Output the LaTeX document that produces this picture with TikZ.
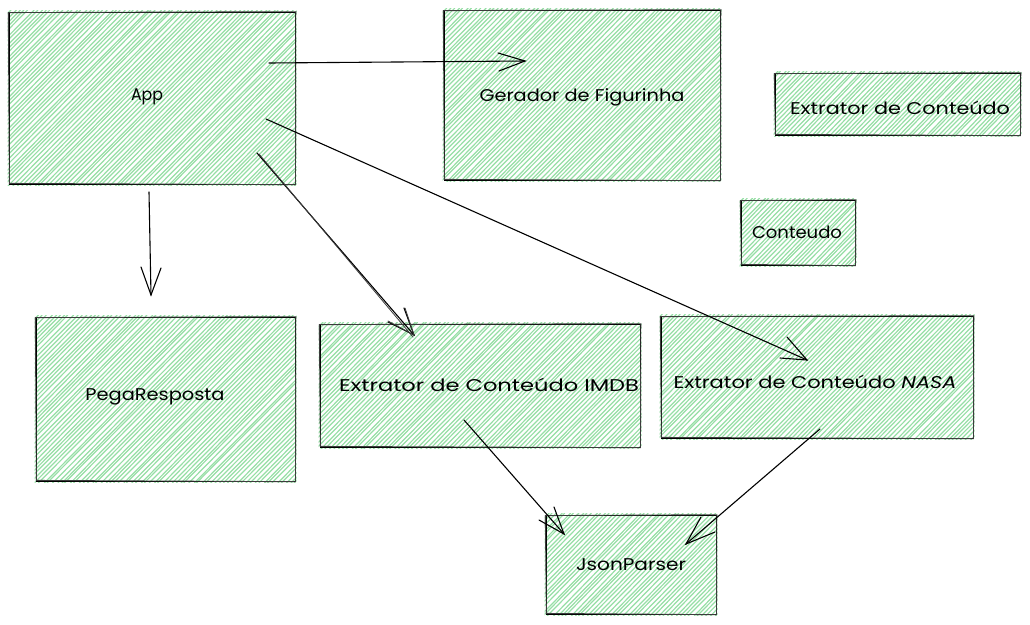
\documentclass[tikz,border=0pt]{standalone}
\usepackage{fontspec}
\setmainfont{Poppins}
\definecolor{hachgreen}{RGB}{150,222,165}
\definecolor{inkgray}{RGB}{60,60,60}
\tikzset{
  hachline/.style={draw=hachgreen,line width=1.2pt},
  boxnode/.style={draw=black,line width=1pt,inner sep=0pt,anchor=north west},
  boxsketch/.style={draw=inkgray,line width=0.9pt},
  boxlabel/.style={font=\fontsize{17}{20}\selectfont,text=black,inner sep=0pt},
  link/.style={draw=black,line width=1.1pt,line cap=round},
  linksketch/.style={draw=inkgray,line width=0.8pt,line cap=round},
}
% name x1 y1 x2 y2 labelx labely labelwidth text
\newcommand{\skbox}[9]{%
  \pgfmathsetmacro{\bxw}{#4-#2}\pgfmathsetmacro{\bxh}{#5-#3}%
  \pgfmathsetmacro{\bxn}{\bxw+\bxh}%
  \begin{scope}
    \clip (#2-1.5,#3-1.5) rectangle (#4+1.5,#5+1.5);
    \foreach \d in {0,4.4,...,\bxn}{
      \draw[hachline] ({#2+\d-\bxh+1.2*rand},#5+2) -- ({#2+\d+2+1.2*rand},#3-2);
    }
  \end{scope}
  \node[boxnode,minimum width=\bxw pt,minimum height=\bxh pt] (#1) at (#2,#3) {};
  \draw[boxsketch] (#2-0.7,#3+0.6) -- (#4+0.8,#3-0.3) -- (#4+0.5,#5+0.7) -- (#2+0.4,#5-0.6) -- cycle;
  \node[boxlabel] (#1label) at (#6,#7) {\resizebox{#8pt}{\height}{#9}};
}
\begin{document}
\begin{tikzpicture}[x=1pt,y=-1pt]
\useasboundingbox (0,0) rectangle (1030,624);
\pgfmathsetseed{42}
\skbox{app}{9}{12}{295}{184}{147}{97}{32}{App}
\skbox{gerador}{444}{10}{720}{180}{582}{97}{205}{Gerador de Figurinha}
\skbox{extrator}{775}{73}{1020}{135}{900}{108}{220}{Extrator de Conteúdo}
\skbox{conteudo}{741}{200}{855}{265}{797}{232}{90}{Conteudo}
\skbox{pega}{36}{317}{295}{481}{155}{397}{139}{PegaResposta}
\skbox{imdb}{320}{324}{640}{447}{489}{385}{300}{Extrator de Conteúdo IMDB}
\skbox{nasa}{661}{316}{973}{438}{815}{382}{283}{Extrator de Conteúdo \textit{NASA}}
\skbox{json}{546}{515}{716}{614}{631}{565}{110}{JsonParser}

% connector ends and arrowhead barbs
\coordinate (s1) at (269,63);  \coordinate (t1) at (525,61);
\coordinate (b1a) at (498,53); \coordinate (b1b) at (499,71);
\coordinate (s2) at (149,192); \coordinate (t2) at (151,295);
\coordinate (b2a) at (141,267); \coordinate (b2b) at (161,268);
\coordinate (s3) at (257,153); \coordinate (t3) at (414,335);
\coordinate (b3a) at (404,308); \coordinate (b3b) at (388,322);
\coordinate (s4) at (266,119); \coordinate (t4) at (807,360);
\coordinate (b4a) at (787,337); \coordinate (b4b) at (780,358);
\coordinate (s5) at (464,420); \coordinate (t5) at (564,534);
\coordinate (b5a) at (554,507); \coordinate (b5b) at (539,520);
\coordinate (s6) at (820,429); \coordinate (t6) at (686,544);
\coordinate (b6a) at (701,517); \coordinate (b6b) at (715,532);

\foreach \i in {1,...,6}{
  \draw[link] (s\i) -- (t\i);
  \draw[link] (b\i a) -- (t\i) -- (b\i b);
}
\draw[linksketch] ([xshift=2pt,yshift=-1pt]s3) -- ([xshift=-1pt,yshift=-2pt]t3);
\draw[linksketch] ([xshift=1pt]b3a) -- (t3);
\draw[linksketch] ([yshift=1pt]b3b) -- (t3);
\end{tikzpicture}
\end{document}
